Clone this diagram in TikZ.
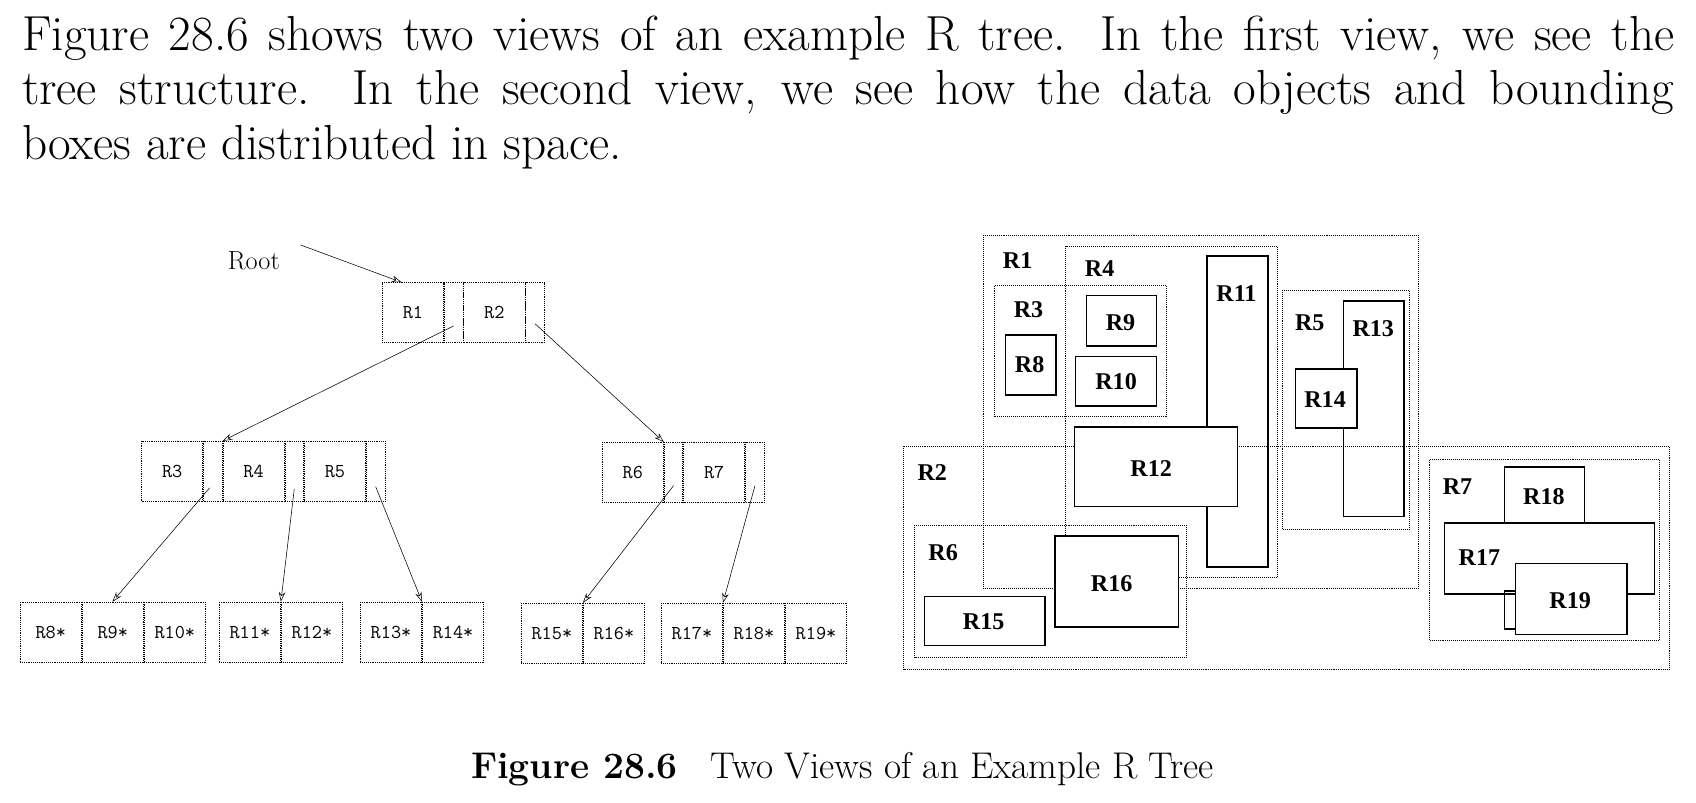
\documentclass[tikz,border=0pt]{standalone}
\usepackage{fontspec}
\newfontfamily\lbs{Liberation Serif}
\usetikzlibrary{arrows.meta}
\begin{document}
\begin{tikzpicture}[x=1pt,y=-1pt,
  cell/.style={draw,densely dotted,line width=0.7pt,minimum height=55pt,inner sep=0pt,font=\ttfamily\fontsize{18}{18}\selectfont},
  ptr/.style={cell,minimum width=17pt},
  ent/.style={cell,minimum width=56pt},
  arr/.style={-{Stealth[open,length=9pt,width=6pt]},line width=0.5pt},
  bb/.style={draw,densely dotted,line width=0.8pt},
  ob/.style={draw,line width=1.4pt},
  lab/.style={font=\lbs\bfseries\fontsize{22}{22}\selectfont,inner sep=0pt}]
\useasboundingbox (0,0) rectangle (1550,733);
% paragraph
\node[anchor=north west,inner sep=0pt,font=\fontsize{45}{50}\selectfont,align=left] (para) at (20,14)
{\makebox[1510pt][s]{Figure 28.6 shows two views of an example R tree. In the first view, we see the}\\
\makebox[1510pt][s]{tree structure. In the second view, we see how the data objects and bounding}\\
boxes are distributed in space.};
% root
\node[ent,anchor=north west] (r1) at (349,258) {R1};
\node[ptr,anchor=west] (p1) at (r1.east) {};
\node[ent,anchor=west] (r2) at (p1.east) {R2};
\node[ptr,anchor=west] (p2) at (r2.east) {};
\node[font=\fontsize{24}{24}\selectfont] (root) at (232,238) {Root};
\coordinate (rs) at (275,224);
\draw[arr] (rs) -- ([xshift=18]r1.north west);
% level 2 left
\node[ent,anchor=north west] (r3) at (129,403) {R3};
\node[ptr,anchor=west] (p3) at (r3.east) {};
\node[ent,anchor=west] (r4) at (p3.east) {R4};
\node[ptr,anchor=west] (p4) at (r4.east) {};
\node[ent,anchor=west] (r5) at (p4.east) {R5};
\node[ptr,anchor=west] (p5) at (r5.east) {};
% level 2 right
\node[ent,anchor=north west] (r6) at (550,404) {R6};
\node[ptr,anchor=west] (p6) at (r6.east) {};
\node[ent,anchor=west] (r7) at (p6.east) {R7};
\node[ptr,anchor=west] (p7) at (r7.east) {};
% leaves
\node[ent,anchor=north west] (l8) at (18,550) {R8*};
\node[ent,anchor=west] (l9) at (l8.east) {R9*};
\node[ent,anchor=west] (l10) at (l9.east) {R10*};
\node[ent,anchor=north west] (l11) at (200,550) {R11*};
\node[ent,anchor=west] (l12) at (l11.east) {R12*};
\node[ent,anchor=north west] (l13) at (329,550) {R13*};
\node[ent,anchor=west] (l14) at (l13.east) {R14*};
\node[ent,anchor=north west] (l15) at (476,551) {R15*};
\node[ent,anchor=west] (l16) at (l15.east) {R16*};
\node[ent,anchor=north west] (l17) at (604,551) {R17*};
\node[ent,anchor=west] (l18) at (l17.east) {R18*};
\node[ent,anchor=west] (l19) at (l18.east) {R19*};
\draw[arr] ([shift={(0,12)}]p1.center) -- (r4.north west);
\draw[arr] ([shift={(0,10)}]p2.center) -- (r6.north east);
\draw[arr] ([shift={(-3,15)}]p3.center) -- ([xshift=28]l9.north west);
\draw[arr] ([shift={(0,16)}]p4.center) -- (l11.north east);
\draw[arr] ([shift={(0,14)}]p5.center) -- (l13.north east);
\draw[arr] ([shift={(0,12)}]p6.center) -- (l15.north east);
\draw[arr] ([shift={(0,12)}]p7.center) -- (l18.north west);
% right view
\draw[bb] (899,215) rectangle (1296,538);
\draw[bb] (974,225) rectangle (1167,528);
\draw[bb] (909,261) rectangle (1066,381);
\draw[bb] (1172,265) rectangle (1288,484);
\draw[bb] (826,408) rectangle (1526,612);
\draw[bb] (836,480) rectangle (1084,601);
\draw[bb] (1306,420) rectangle (1517,585);
\draw[ob] (1103,234) rectangle (1159,518);
\draw[ob,fill=white] (982,390) rectangle (1131,463);
\draw[ob] (919,306) rectangle (965,361);
\draw[ob] (993,270) rectangle (1057,316);
\draw[ob] (983,326) rectangle (1057,371);
\draw[ob] (1228,275) rectangle (1283,472);
\draw[ob,fill=white] (1184,337) rectangle (1240,391);
\draw[ob,fill=white] (964,490) rectangle (1077,573);
\draw[ob] (845,545) rectangle (955,590);
\draw[ob] (1375,427) rectangle (1448,480);
\draw[ob,fill=white] (1320,478) rectangle (1512,543);
\draw[ob] (1375,540) rectangle (1387,575);
\draw[ob,fill=white] (1385,515) rectangle (1487,580);
\node[lab] (t1) at (930,238) {R1};
\node[lab] (t4) at (1005,245) {R4};
\node[lab] (t3) at (940,283) {R3};
\node[lab] (t8) at (941,333) {R8};
\node[lab] (t9) at (1024,295) {R9};
\node[lab] (t10) at (1020,349) {R10};
\node[lab] (t11) at (1130,268) {R11};
\node[lab] (t12) at (1052,428) {R12};
\node[lab] (t5) at (1197,295) {R5};
\node[lab] (t13) at (1255,300) {R13};
\node[lab] (t14) at (1211,365) {R14};
\node[lab] (t2) at (852,432) {R2};
\node[lab] (t6) at (862,505) {R6};
\node[lab] (t15) at (899,568) {R15};
\node[lab] (t16) at (1016,533) {R16};
\node[lab] (t7) at (1332,445) {R7};
\node[lab] (t18) at (1411,454) {R18};
\node[lab] (t17) at (1352,510) {R17};
\node[lab] (t19) at (1435,549) {R19};
% caption
\node[font=\fontsize{34}{34}\selectfont,inner sep=0pt] (cap) at (770,703) {\textbf{Figure 28.6}\hspace{30pt}Two Views of an Example R Tree};
\end{tikzpicture}
\end{document}
